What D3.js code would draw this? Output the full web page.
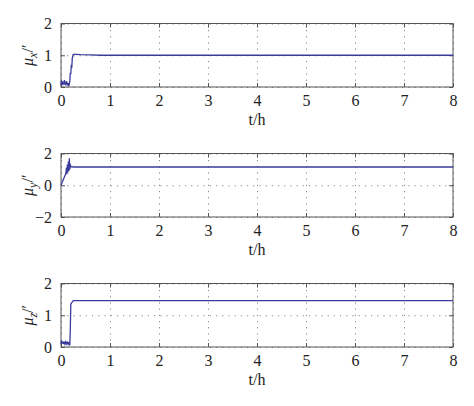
<!DOCTYPE html>
<html lang="en">
<head>
    <meta charset="UTF-8">
    <title>mu drift</title>
    <script src="https://cdn.jsdelivr.net/npm/d3@7"></script>
    <style>
        body { margin: 0; background: #fff; }
        .frame { fill: none; stroke: #555; stroke-width: 1; }
        .grid line { stroke: #888; stroke-dasharray: 1.2,5; stroke-width: 1; }
        .grid path { display: none; }
        .ax path { display: none; }
        .ax line { stroke: #555; }
    </style>
</head>
<body>
<script>
    // time axis (hours)
    let xTicks = [0, 1, 2, 3, 4, 5, 6, 7, 8]

    // mu_x
    let tX  = [0, 0.01, 0.02, 0.03, 0.04, 0.05, 0.06, 0.07, 0.08, 0.09, 0.10, 0.11, 0.12, 0.13, 0.14, 0.15, 0.16, 0.17, 0.18, 0.19, 0.20, 0.21, 0.22, 0.23, 0.25, 0.3, 0.4, 0.6, 0.8, 1, 2, 3, 4, 5, 6, 7, 8]
    let muX = [0.05, 0.2, 0.08, 0.18, 0.06, 0.16, 0.1, 0.22, 0.07, 0.15, 0.05, 0.19, 0.08, 0.14, 0.04, 0.12, 0.03, 0.1, 0.2, 0.45, 0.4, 0.7, 0.6, 0.9, 1.03, 1.03, 1.02, 1.01, 1.0, 1.0, 1.0, 1.0, 1.0, 1.0, 1.0, 1.0, 1.0]
    let yTicksX = [0, 1, 2]

    // mu_y
    let tY  = [0, 0.02, 0.04, 0.06, 0.08, 0.10, 0.11, 0.12, 0.13, 0.14, 0.15, 0.16, 0.17, 0.18, 0.19, 0.20, 0.22, 0.25, 0.3, 0.5, 1, 2, 3, 4, 5, 6, 7, 8]
    let muY = [0.0, 0.15, 0.3, 0.45, 0.6, 0.75, 1.1, 0.7, 1.3, 0.8, 1.5, 0.9, 1.7, 1.0, 1.35, 1.15, 1.17, 1.15, 1.15, 1.15, 1.15, 1.15, 1.15, 1.15, 1.15, 1.15, 1.15, 1.15]
    let yTicksY = [-2, 0, 2]

    // mu_z
    let tZ  = [0, 0.01, 0.02, 0.03, 0.04, 0.05, 0.06, 0.07, 0.08, 0.09, 0.10, 0.11, 0.12, 0.13, 0.14, 0.15, 0.16, 0.17, 0.18, 0.19, 0.2, 0.22, 0.25, 0.3, 1, 2, 3, 4, 5, 6, 7, 8]
    let muZ = [0.1, 0.2, 0.12, 0.18, 0.1, 0.16, 0.09, 0.17, 0.1, 0.15, 0.08, 0.17, 0.1, 0.14, 0.08, 0.15, 0.09, 0.12, 0.05, 0.6, 1.35, 1.4, 1.46, 1.46, 1.46, 1.46, 1.46, 1.46, 1.46, 1.46, 1.46, 1.46]
    let yTicksZ = [0, 1, 2]

    let panels = [
        { t: tX, v: muX, ticks: yTicksX, dom: [0, 2],  top: 23.5,  sub: 'x' },
        { t: tY, v: muY, ticks: yTicksY, dom: [-2, 2], top: 153.5, sub: 'y' },
        { t: tZ, v: muZ, ticks: yTicksZ, dom: [0, 2],  top: 283.5, sub: 'z' }
    ]

    let w = 474
    let h = 406
    let left = 61
    let right = 453
    let ph = 63.5
    let serif = "'Liberation Serif'"

    let svg = d3.select('body').append('svg')
        .attr('width', w)
        .attr('height', h)
        .style('font-family', serif)

    let xScale = d3.scaleLinear().domain([0, 8]).range([left, right])

    function styleText(sel) {
        sel.attr('font-family', null).attr('font-size', null)
        sel.selectAll('text')
            .style('font-family', serif)
            .style('font-size', '16px')
            .attr('fill', '#222')
    }

    panels.forEach(p => {
        let yScale = d3.scaleLinear().domain(p.dom).range([p.top + ph, p.top])
        let g = svg.append('g')

        // dotted grid
        g.append('g').attr('class', 'grid')
            .attr('transform', 'translate(0,' + (p.top + ph) + ')')
            .call(d3.axisBottom(xScale).tickValues(xTicks).tickSize(-ph).tickFormat(''))
        g.append('g').attr('class', 'grid')
            .attr('transform', 'translate(' + left + ',0)')
            .call(d3.axisLeft(yScale).tickValues(p.ticks).tickSize(-(right - left)).tickFormat(''))

        // inward ticks on all four sides
        g.append('g').attr('class', 'ax')
            .attr('transform', 'translate(0,' + (p.top + ph) + ')')
            .call(d3.axisBottom(xScale).tickValues(xTicks).tickSizeInner(-4).tickPadding(8).tickFormat(d3.format('d')))
            .call(styleText)
        g.append('g').attr('class', 'ax')
            .attr('transform', 'translate(0,' + p.top + ')')
            .call(d3.axisTop(xScale).tickValues(xTicks).tickSizeInner(-4).tickFormat(''))
        g.append('g').attr('class', 'ax')
            .attr('transform', 'translate(' + left + ',0)')
            .call(d3.axisLeft(yScale).tickValues(p.ticks).tickSizeInner(-4).tickPadding(9).tickFormat(d => d < 0 ? '\u2212' + (-d) : d))
            .call(styleText)
        g.append('g').attr('class', 'ax')
            .attr('transform', 'translate(' + right + ',0)')
            .call(d3.axisRight(yScale).tickValues(p.ticks).tickSizeInner(-4).tickFormat(''))

        g.append('rect').attr('class', 'frame')
            .attr('x', left).attr('y', p.top)
            .attr('width', right - left).attr('height', ph)

        let line = d3.line()
            .x((d, i) => xScale(p.t[i]))
            .y(d => yScale(d))
        g.append('path')
            .datum(p.v)
            .attr('fill', 'none')
            .attr('stroke', '#3b3b9c')
            .attr('stroke-width', 1.3)
            .attr('d', line)

        // x label
        g.append('text')
            .attr('x', xScale(4))
            .attr('y', p.top + ph + 38)
            .attr('text-anchor', 'middle')
            .style('font-family', serif)
            .style('font-size', '16px')
            .attr('fill', '#222')
            .text('t/h')

        // y label
        let yl = g.append('text')
            .attr('transform', 'translate(33,' + (p.top + ph / 2) + ') rotate(-90)')
            .attr('text-anchor', 'middle')
            .style('font-family', serif)
            .style('font-size', '16px')
            .attr('fill', '#222')
        yl.append('tspan').style('font-style', 'italic').text('μ')
        yl.append('tspan').style('font-style', 'italic').style('font-size', '12px').attr('dy', 4).text(p.sub)
        yl.append('tspan').attr('dy', -4).text('/′')
    })
</script>
</body>
</html>
